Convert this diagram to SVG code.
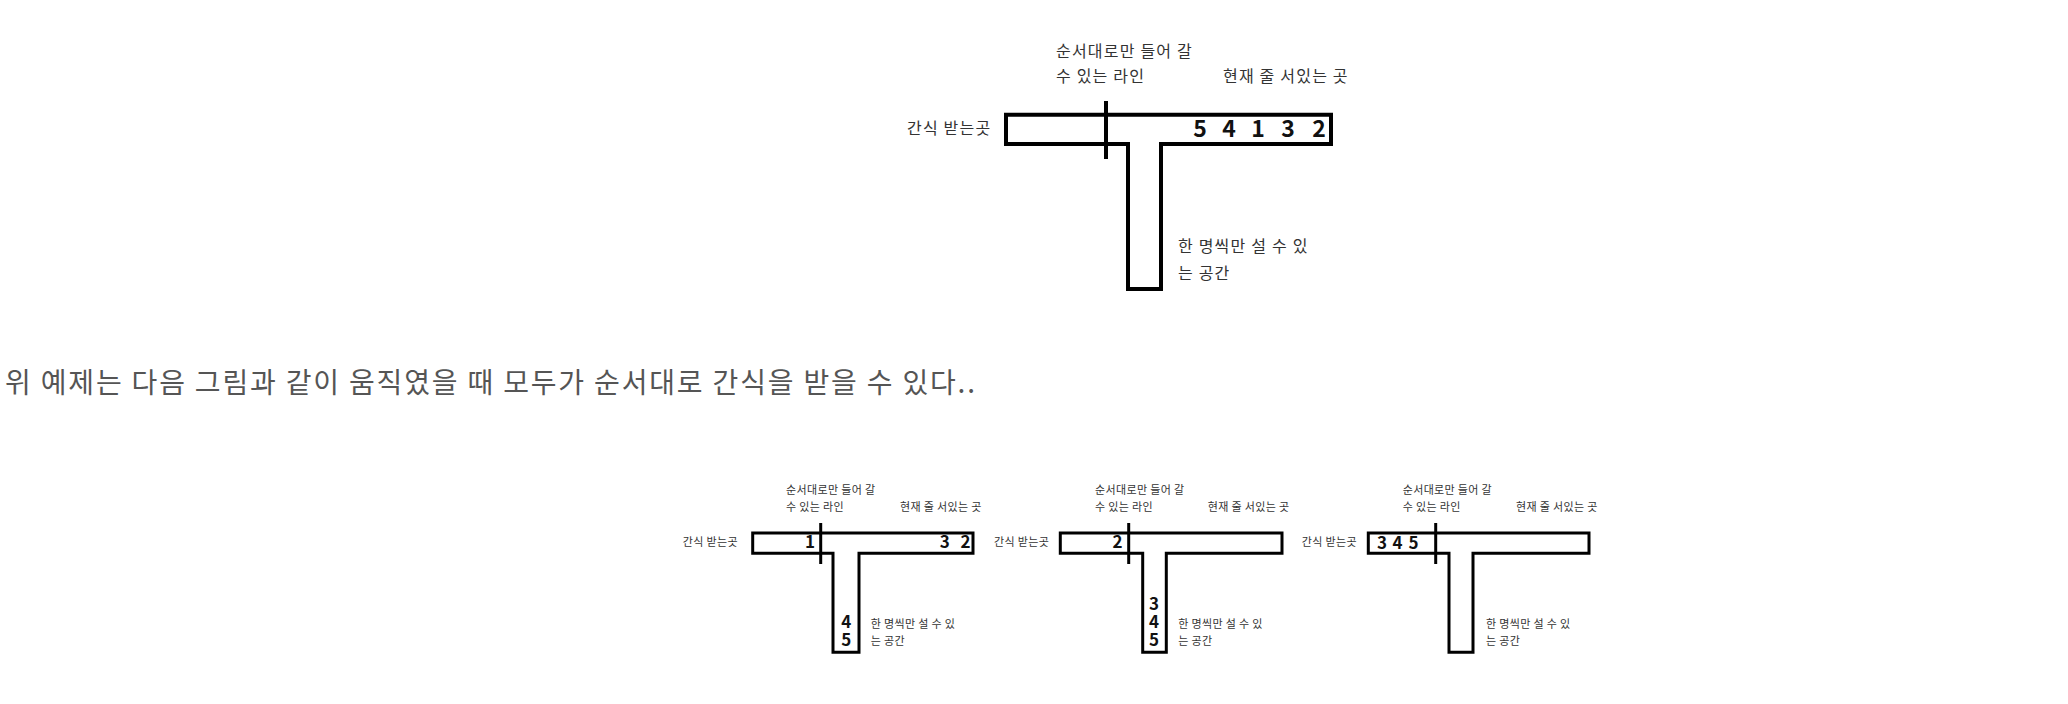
<svg xmlns="http://www.w3.org/2000/svg" width="2068" height="704" viewBox="0 0 2068 704">
<style>
.bg{fill:#ffffff}
.t{fill:none;stroke:#000;stroke-linejoin:miter}
.big{stroke-width:4}
.sm{stroke-width:3}
.lab{font-family:"Noto Sans CJK KR","Noto Sans",sans-serif;fill:#333}
.l16{font-size:16px;letter-spacing:1.2px}
.l11{font-size:11px;letter-spacing:0.35px}
.num{font-family:"Noto Sans CJK KR","Noto Sans",sans-serif;font-weight:700;fill:#111;text-anchor:middle}
.n23{font-size:23px}
.n17{font-size:17px}
.sent{font-family:"Noto Sans CJK KR","Noto Sans",sans-serif;font-size:28px;fill:#555}
</style>
<rect class="bg" x="0" y="0" width="2068" height="704"/>

<g id="diagram-top">
  <path class="t big" d="M1006,114.7 H1331 V144 H1161 V289 H1128 V144 H1006 Z"/>
  <line class="t big" x1="1106" y1="101" x2="1106" y2="159"/>
  <text class="lab l16" x="1056" y="56.5">순서대로만 들어 갈</text>
  <text class="lab l16" x="1056" y="82">수 있는 라인</text>
  <text class="lab l16" x="1223" y="82">현재 줄 서있는 곳</text>
  <text class="lab l16" x="907" y="133.5">간식 받는곳</text>
  <text class="lab l16" x="1178" y="252">한 명씩만 설 수 있</text>
  <text class="lab l16" x="1178" y="279">는 공간</text>
  <text class="num n23" x="1200" y="137">5</text>
  <text class="num n23" x="1229" y="137">4</text>
  <text class="num n23" x="1258" y="137">1</text>
  <text class="num n23" x="1288" y="137">3</text>
  <text class="num n23" x="1319" y="137">2</text>
</g>

<g id="sentence">
  <text class="sent" x="5" y="393" textLength="970" lengthAdjust="spacing">위 예제는 다음 그림과 같이 움직였을 때 모두가 순서대로 간식을 받을 수 있다..</text>
</g>

<g id="diagram-a">
  <path class="t sm" d="M752.7,533 H973 V553.3 H859 V652.3 H833 V553.3 H752.7 Z"/>
  <line class="t sm" x1="820.7" y1="523" x2="820.7" y2="564"/>
  <text class="lab l11" x="786" y="493.5">순서대로만 들어 갈</text>
  <text class="lab l11" x="786" y="511">수 있는 라인</text>
  <text class="lab l11" x="900" y="510.5">현재 줄 서있는 곳</text>
  <text class="lab l11" x="682.7" y="545.5">간식 받는곳</text>
  <text class="lab l11" x="870.7" y="627.5">한 명씩만 설 수 있</text>
  <text class="lab l11" x="870.7" y="644.5">는 공간</text>
  <text class="num n17" x="810" y="548">1</text>
  <text class="num n17" x="944.7" y="548">3</text>
  <text class="num n17" x="965.5" y="548">2</text>
  <text class="num n17" x="846.3" y="628">4</text>
  <text class="num n17" x="846.3" y="645.5">5</text>
</g>

<g id="diagram-b">
  <path class="t sm" d="M1060.3,533 H1282 V553.3 H1166.3 V652.3 H1142.7 V553.3 H1060.3 Z"/>
  <line class="t sm" x1="1128.7" y1="523" x2="1128.7" y2="564"/>
  <text class="lab l11" x="1095" y="493.5">순서대로만 들어 갈</text>
  <text class="lab l11" x="1095" y="511">수 있는 라인</text>
  <text class="lab l11" x="1207.7" y="510.5">현재 줄 서있는 곳</text>
  <text class="lab l11" x="994" y="545.5">간식 받는곳</text>
  <text class="lab l11" x="1178.3" y="627.5">한 명씩만 설 수 있</text>
  <text class="lab l11" x="1178.3" y="644.5">는 공간</text>
  <text class="num n17" x="1117.5" y="548">2</text>
  <text class="num n17" x="1154" y="609.5">3</text>
  <text class="num n17" x="1154" y="628">4</text>
  <text class="num n17" x="1154" y="645.5">5</text>
</g>

<g id="diagram-c">
  <path class="t sm" d="M1368.3,533 H1589 V553.3 H1473 V652.3 H1449 V553.3 H1368.3 Z"/>
  <line class="t sm" x1="1435.7" y1="523" x2="1435.7" y2="564"/>
  <text class="lab l11" x="1402.7" y="493.5">순서대로만 들어 갈</text>
  <text class="lab l11" x="1402.7" y="511">수 있는 라인</text>
  <text class="lab l11" x="1516" y="510.5">현재 줄 서있는 곳</text>
  <text class="lab l11" x="1301.7" y="545.5">간식 받는곳</text>
  <text class="lab l11" x="1486" y="627.5">한 명씩만 설 수 있</text>
  <text class="lab l11" x="1486" y="644.5">는 공간</text>
  <text class="num n17" x="1382" y="548.5">3</text>
  <text class="num n17" x="1397.5" y="548.5">4</text>
  <text class="num n17" x="1413.5" y="548.5">5</text>
</g>

<g id="connectors"></g>
</svg>
